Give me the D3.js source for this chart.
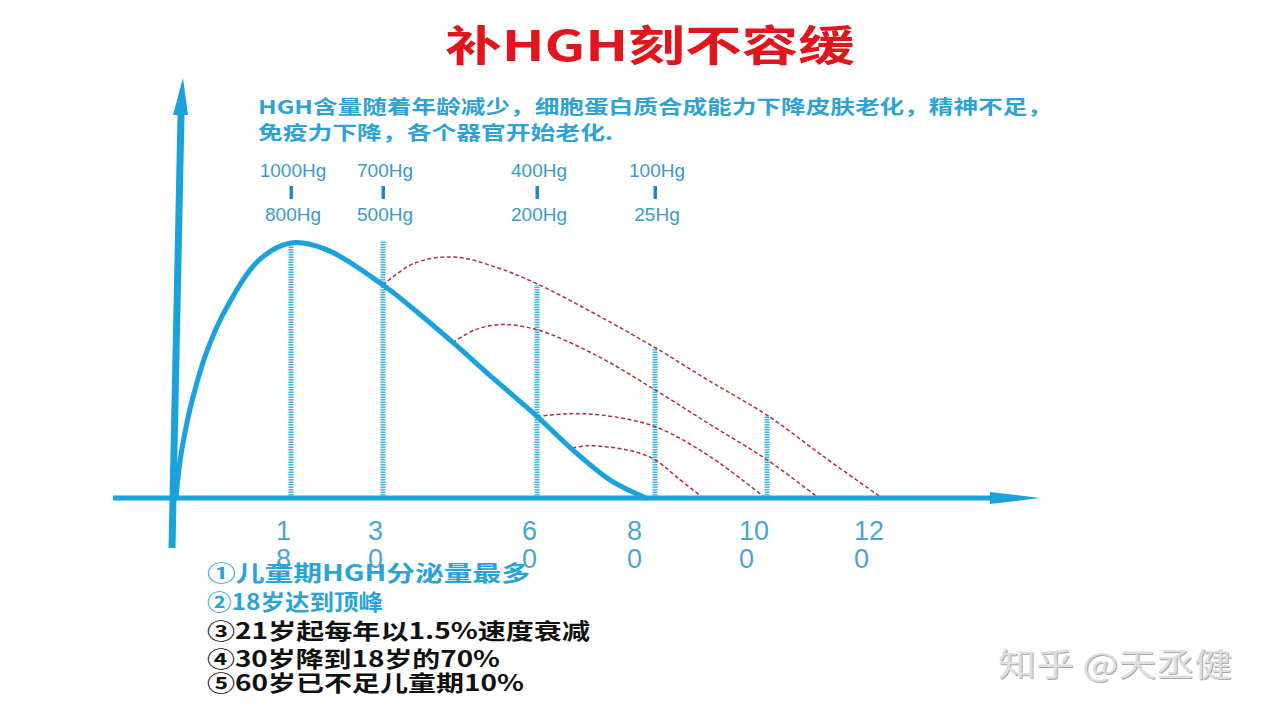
<!DOCTYPE html>
<html>
<head>
<meta charset="utf-8">
<script src="https://cdn.jsdelivr.net/npm/d3@7"></script>
<style>
  html,body{margin:0;padding:0;background:#fff;}
  svg{display:block;}
</style>
</head>
<body>
<svg id="chart" width="1266" height="711"></svg>
<script>
// ---------------- data ----------------
const titleText = "补HGH刻不容缓";
const introLines = ["HGH含量随着年龄减少，细胞蛋白质合成能力下降皮肤老化，精神不足，", "免疫力下降，各个器官开始老化."];
const noteLines = ["①儿童期HGH分泌量最多", "②18岁达到顶峰", "③21岁起每年以1.5%速度衰减", "④30岁降到18岁的70%", "⑤60岁已不足儿童期10%"];
const noteColors = ["#2ba3d8", "#2ba3d8", "#111", "#111", "#111"];
const watermark = "知乎 @天丞健";

// age tick labels on the x axis
const ageTicks = [18, 30, 60, 80, 100, 120];
// HGH ranges at marked ages
const hgAges = [18, 30, 60, 80];
const hgTop = ["1000Hg", "700Hg", "400Hg", "100Hg"];
const hgBottom = ["800Hg", "500Hg", "200Hg", "25Hg"];

// marker (dotted) lines: age and top level
const markerAges = [18, 30, 60, 80, 100];
const markerLevels = [100, 101, 83.5, 59, 32.5];

// main HGH curve (relative level, peak = 100)
const mainAges   = [0, 0.6, 1.5, 2.7, 4.9, 8, 13, 18, 22.7, 30, 36, 43.6, 52, 60, 66, 72.4, 78.5];
const mainLevels = [0, 14, 27, 40, 58, 75, 93.3, 100, 97.3, 83.5, 74, 61, 46, 32, 19, 7, 0];

// dashed "with supplement" curves
const dashA_ages   = [30, 36, 44, 52, 60, 70, 80, 90, 100, 110, 120];
const dashA_levels = [83.5, 92, 94.5, 90.5, 84, 72, 59, 45.5, 32.5, 16, 0];
const dashB_ages   = [43.6, 48, 53, 60, 70, 80, 90, 100, 109];
const dashB_levels = [61, 66, 68, 66, 56, 42.4, 28.6, 15, 0];
const dashC_ages   = [60, 65, 71, 80, 90, 99.7];
const dashC_levels = [32, 33, 32.5, 28, 16, 0];
const dashD_ages   = [66, 68.5, 72, 76, 80, 84, 88.6];
const dashD_levels = [19.6, 20.5, 20, 18.5, 15, 8, 0];

// ---------------- scales ----------------
const svg = d3.select("#chart");
const x = d3.scaleLinear()
  .domain([0, 18, 30, 60, 80, 100, 120])
  .range([176, 291, 383, 537, 655, 767, 882]);
const y = d3.scaleLinear().domain([0, 100]).range([498, 243]);

const blue = "#1aa2dd";
const cjk = '"Noto Sans CJK SC", "Noto Sans", sans-serif';
const latin = '"Liberation Sans", Arial, sans-serif';

// ---------------- title & texts ----------------
svg.append("text")
  .attr("x", 445).attr("y", 61)
  .style("font-family", cjk)
  .attr("font-size", 42).attr("font-weight", 700)
  .attr("fill", "#e1161c")
  .attr("textLength", 410).attr("lengthAdjust", "spacingAndGlyphs")
  .text(titleText);

const introLens = [794, 355];
introLines.forEach((t, i) => {
  svg.append("text")
    .attr("x", 258).attr("y", 114 + i * 26)
    .style("font-family", cjk)
    .attr("font-size", 19).attr("font-weight", 700)
    .attr("fill", "#2fa2d4")
    .attr("textLength", introLens[i]).attr("lengthAdjust", "spacingAndGlyphs")
    .text(t);
});

// HG labels
const hg = svg.append("g");
hgAges.forEach((a, i) => {
  const cx = x(a) + 2;
  hg.append("text").attr("x", cx).attr("y", 177).attr("text-anchor", "middle")
    .style("font-family", latin)
    .attr("font-size", 19).attr("fill", "#3a9cc6").text(hgTop[i]);
  hg.append("rect").attr("x", x(a) - 1.5).attr("y", 186).attr("width", 3.5).attr("height", 13)
    .attr("fill", "#1e8ac6");
  hg.append("text").attr("x", cx).attr("y", 221).attr("text-anchor", "middle")
    .style("font-family", latin)
    .attr("font-size", 19).attr("fill", "#3a9cc6").text(hgBottom[i]);
});

// ---------------- marker dotted lines ----------------
svg.append("g").selectAll("line").data(markerAges).join("line")
  .attr("x1", d => x(d)).attr("x2", d => x(d))
  .attr("y1", y(0)).attr("y2", (d, i) => y(markerLevels[i]))
  .attr("stroke", "#3fb4df").attr("stroke-width", 5)
  .attr("stroke-dasharray", "1.6,0.9");

// ---------------- dashed curves ----------------
const line = d3.line().x(d => x(d[0])).y(d => y(d[1])).curve(d3.curveCatmullRom.alpha(0.5));
const dashSets = [
  [dashA_ages, dashA_levels],
  [dashB_ages, dashB_levels],
  [dashC_ages, dashC_levels],
  [dashD_ages, dashD_levels]
];
svg.append("g").selectAll("path").data(dashSets).join("path")
  .attr("d", s => line(d3.zip(s[0], s[1])))
  .attr("fill", "none").attr("stroke", "#a8343a").attr("stroke-width", 1.5)
  .attr("stroke-dasharray", "4,2.5");

// ---------------- axes ----------------
const x0 = x(0), y0 = y(0);
// x axis
svg.append("line").attr("x1", x0 - 63).attr("x2", x(120) + 112)
  .attr("y1", y0).attr("y2", y0)
  .attr("stroke", blue).attr("stroke-width", 5);
svg.append("path")
  .attr("d", `M${x(120) + 108},${y0 - 6} L${x(120) + 158},${y0} L${x(120) + 108},${y0 + 6} Z`)
  .attr("fill", blue);
// y axis (slightly tilted as in the picture)
svg.append("line").attr("x1", x0 - 4).attr("y1", y0 + 50)
  .attr("x2", x0 + 5).attr("y2", y(100) - 128)
  .attr("stroke", blue).attr("stroke-width", 7);
svg.append("path")
  .attr("d", `M${x0 - 3},${y(100) - 128} L${x0 + 7},${y(100) - 165} L${x0 + 12},${y(100) - 128} Z`)
  .attr("fill", blue);

// main curve
svg.append("path")
  .attr("d", line(d3.zip(mainAges, mainLevels)))
  .attr("fill", "none").attr("stroke", blue).attr("stroke-width", 5)
  .attr("stroke-linecap", "round");

// age tick labels (split over two lines like the picture)
const tl = svg.append("g");
ageTicks.forEach(t => {
  const s = String(t);
  const lx = x(t) - (t >= 80 ? 28 : 15);
  tl.append("text").attr("x", lx).attr("y", 540)
    .style("font-family", latin)
    .attr("font-size", 27).attr("fill", "#4aa6cc").text(s.slice(0, -1));
  tl.append("text").attr("x", lx).attr("y", 568)
    .style("font-family", latin)
    .attr("font-size", 27).attr("fill", "#4aa6cc").text(s.slice(-1));
});

// notes
const noteLens = [323, 176, 383, 293, 317];
const noteY = [581, 610, 639, 667, 691];
noteLines.forEach((t, i) => {
  svg.append("text")
    .attr("x", 207).attr("y", noteY[i])
    .style("font-family", cjk)
    .attr("font-size", 22).attr("font-weight", 700)
    .attr("fill", noteColors[i])
    .attr("textLength", noteLens[i]).attr("lengthAdjust", "spacingAndGlyphs")
    .text(t);
});

// watermark
svg.append("text").attr("x", 999).attr("y", 677)
  .style("font-family", cjk)
  .attr("font-size", 32).attr("fill", "#a9a9a9")
  .attr("textLength", 234).attr("lengthAdjust", "spacingAndGlyphs")
  .text(watermark);
svg.append("text").attr("x", 998).attr("y", 676)
  .style("font-family", cjk)
  .attr("font-size", 32).attr("fill", "#dedede")
  .attr("textLength", 234).attr("lengthAdjust", "spacingAndGlyphs")
  .text(watermark);
</script>
</body>
</html>
